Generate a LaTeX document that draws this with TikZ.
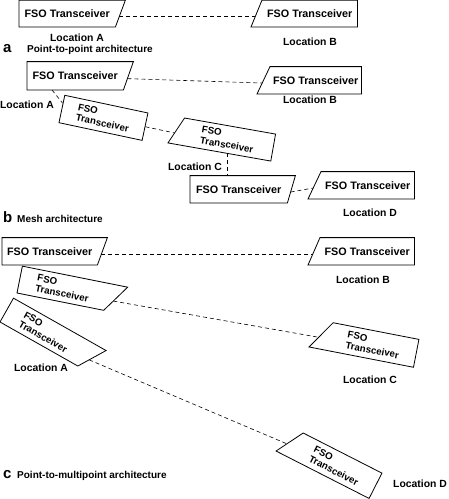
\documentclass[tikz,border=0pt]{standalone}
\usepackage{fontspec}
\setmainfont{Liberation Sans}
\usetikzlibrary{calc}
\newcommand{\fsoheight}{27pt}
\newcommand{\boxfont}{\bfseries\fontsize{10.8}{12}\selectfont}
\newcommand{\locfont}{\bfseries\fontsize{10.4}{12}\selectfont}
\newcommand{\tiltfont}{\bfseries\fontsize{9.7}{10.8}\selectfont}
\newcommand{\capfont}{\bfseries\fontsize{10}{12}\selectfont}
\newcommand{\capletter}[2]{\makebox[#2][l]{\fontsize{15}{15}\selectfont #1}}
% slanted right side: top right corner pushed out by #2
\newcommand{\fsoleftedge}[2]{
  \coordinate (#1-tr) at ($(#1.north east)!#2!90:(#1.south east)$);
  \coordinate (#1-slant) at ($(#1-tr)!0.6!(#1.south east)$);
  \draw[fsoline] (#1.south west) -- (#1.north west) -- (#1-tr)
    -- (#1.south east) -- cycle;
}
% slanted left side: bottom left corner pushed out by #2
\newcommand{\fsorightedge}[2]{
  \coordinate (#1-bl) at ($(#1.south west)!#2!90:(#1.north west)$);
  \coordinate (#1-slant) at ($(#1.north west)!0.6!(#1-bl)$);
  \draw[fsoline] (#1.north west) -- (#1.north east) -- (#1.south east)
    -- (#1-bl) -- cycle;
}
\tikzset{
  fsobody/.style={rectangle, minimum height=\fsoheight, inner sep=1pt,
    anchor=south west, font=\boxfont},
  fsotilt/.style={fsobody, font=\tiltfont, align=left},
  fsoline/.style={line width=0.8pt, line join=miter},
  link/.style={dash pattern=on 4pt off 3pt, line width=0.6pt},
  loc/.style={font=\locfont, anchor=base, inner sep=0pt},
  caption/.style={font=\capfont, anchor=base west, inner sep=0pt}
}

\begin{document}
\begin{tikzpicture}[x=1pt,y=-1pt]
  \useasboundingbox (0,0) rectangle (449,499);
  % point-to-point
  \node[fsobody, minimum width=96pt, minimum height=26.5pt] (ptpa) at (19,27) {FSO Transceiver};
  \fsoleftedge{ptpa}{10pt}
  \node[fsobody, minimum width=95pt, minimum height=26.5pt] (ptpb) at (262,27) {FSO Transceiver};
  \fsorightedge{ptpb}{11pt}
  \draw[link] (ptpa-slant) -- (ptpb-slant);
  \node[loc] (ptploca) at (77,41) {Location A};
  \node[loc] (ptplocb) at (310,45) {Location B};
  \node[caption] (capa) at (3,52) {\capletter{a}{24pt}Point-to-point architecture};

  % mesh
  \node[fsobody, minimum width=96pt, minimum height=28pt] (mesha) at (27,90) {FSO Transceiver};
  \fsoleftedge{mesha}{10pt}
  \node[fsobody, minimum width=91pt] (meshb) at (270,94) {FSO Transceiver};
  \fsorightedge{meshb}{13pt}
  \node[fsotilt, draw, fsoline, minimum width=85pt, minimum height=28pt,
    rotate=-12] (meshatilt) at (58.5,123) {FSO\\Transceiver};
  \node[fsotilt, minimum width=92pt, rotate=-10] (meshc) at (179.8,145) {FSO\\Transceiver};
  \fsorightedge{meshc}{12pt}
  \node[fsobody, minimum width=97pt] (meshdl) at (190,203) {FSO Transceiver};
  \fsoleftedge{meshdl}{8pt}
  \node[fsobody, minimum width=93pt] (meshdr) at (321,199) {FSO Transceiver};
  \fsorightedge{meshdr}{13pt}
  \draw[link] (mesha-slant) -- (meshb-slant);
  \draw[link] ($(mesha.south west)!0.26!(mesha.south east)$)
    -- ($(meshatilt.north west)!0.3!(meshatilt.south west)$);
  \draw[link] (meshatilt) -- (meshc-slant);
  \coordinate (meshcdown) at ($(meshc-bl)!0.58!(meshc.south east)$);
  \draw[link] (meshcdown) -- (meshcdown |- meshdl.north);
  \draw[link] (meshdl-slant) -- (meshdr-slant);
  \node[loc, anchor=base east] (meshloca) at (54,108) {Location A};
  \node[loc] (meshlocb) at (310,103) {Location B};
  \node[loc, anchor=base east] (meshlocc) at (222,170) {Location C};
  \node[loc] (meshlocd) at (370,216) {Location D};
  \node[caption] (capb) at (3,222) {\capletter{b}{14pt}Mesh architecture};

  % point-to-multipoint
  \node[fsobody, minimum width=95pt] (pmpa) at (2,265) {FSO Transceiver};
  \fsoleftedge{pmpa}{10pt}
  \node[fsobody, minimum width=94pt] (pmpb) at (320,265) {FSO Transceiver};
  \fsorightedge{pmpb}{12pt}
  \node[fsotilt, minimum width=88pt, rotate=-11.3] (pmpatoc) at (17,293) {FSO\\Transceiver};
  \fsoleftedge{pmpatoc}{19pt}
  \node[fsotilt, minimum width=87pt, minimum height=28pt, rotate=-11] (pmpc) at (327.7,350.6) {FSO\\Transceiver};
  \fsorightedge{pmpc}{19pt}
  \node[fsotilt, minimum width=89pt, rotate=-29.5] (pmpatod) at (0,322) {FSO\\Transceiver};
  \fsoleftedge{pmpatod}{17pt}
  \node[fsotilt, minimum width=88pt, minimum height=28pt, rotate=-27] (pmpd) at (290.3,458.3) {FSO\\Transceiver};
  \fsorightedge{pmpd}{16pt}
  \draw[link] (pmpa-slant) -- (pmpb-slant);
  \draw[link] (pmpatoc-slant) -- (pmpc-slant);
  \draw[link] (pmpatod-slant) -- (pmpd-slant);
  \node[loc] (pmplocb) at (363,283) {Location B};
  \node[loc] (pmplocc) at (370,383) {Location C};
  \node[loc] (pmploca) at (41,371) {Location A};
  \node[loc, anchor=base west] (pmplocd) at (393,487) {Location D};
  \node[caption] (capc) at (3,478) {\capletter{c}{14pt}Point-to-multipoint architecture};
\end{tikzpicture}
\end{document}
